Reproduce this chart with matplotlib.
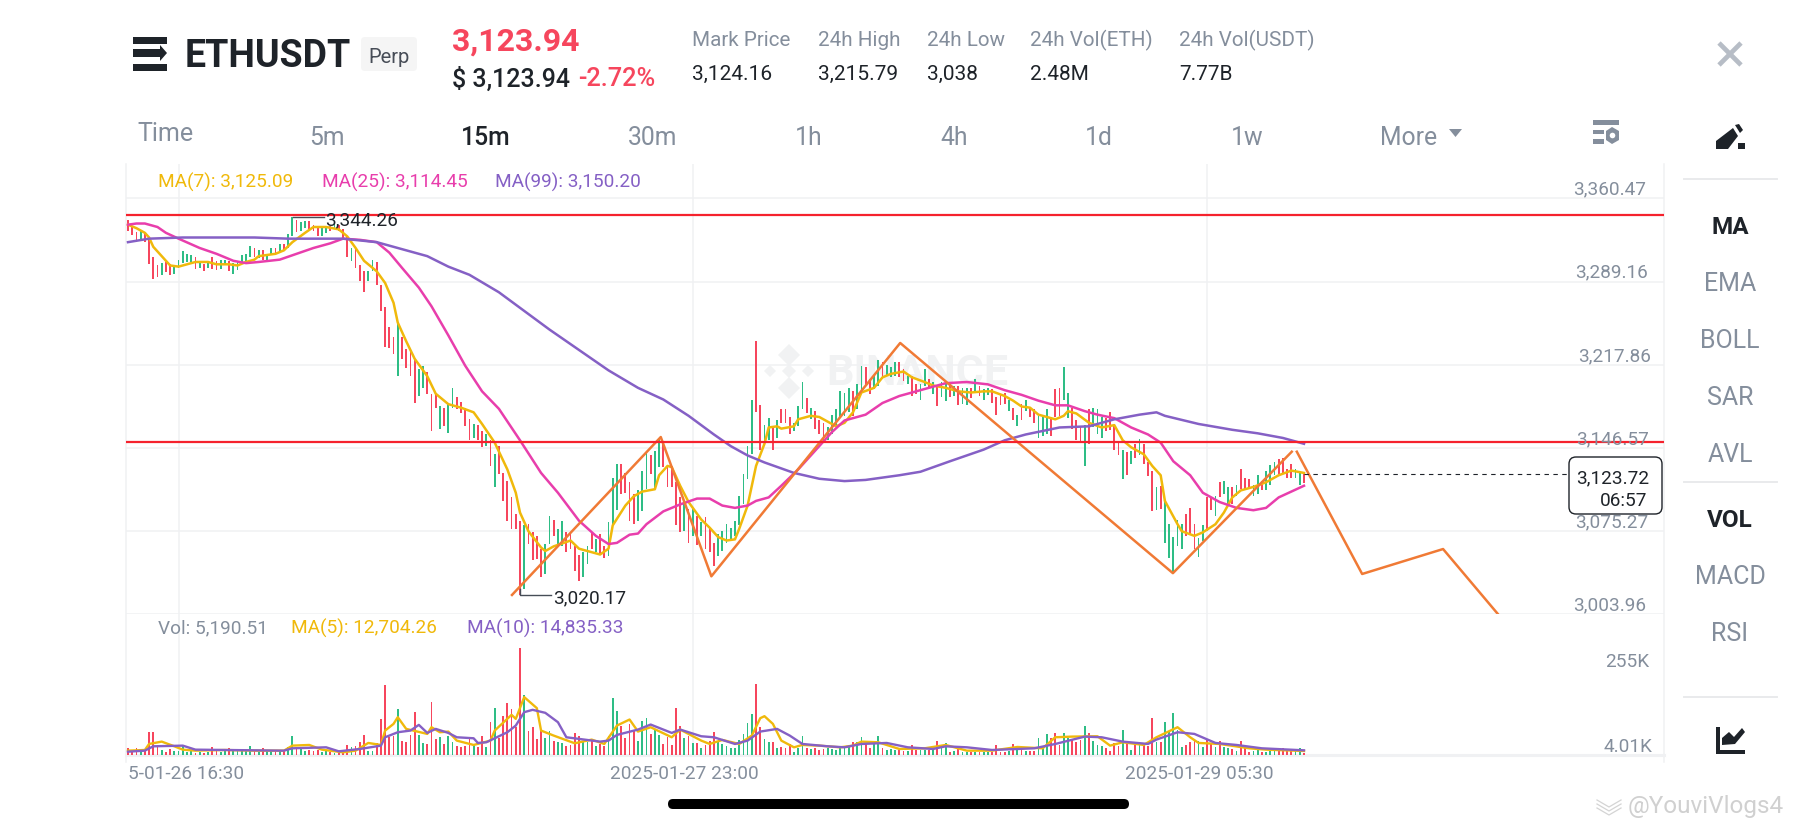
import matplotlib
matplotlib.use("Agg")
import matplotlib.pyplot as plt
from matplotlib.patches import Rectangle, FancyBboxPatch, Polygon

plt.rcParams['font.family'] = ['Roboto', 'DejaVu Sans']

# ---------- data ----------
sides = list("RRRGRRRRGR" "RGGGGGRGRG" "RRGGRGGGGG" "RGRGGRGRGG" "RGGRRRGGRG"
             "RRRGRRRGGR" "RRRRGRRRRG" "GRRRGRGGRR" "RRGRRGRGRR" "RRRRGRRRRG"
             "GRGGRRRRGG" "RGRRGGGRRR" "RGGGRGGRRR" "RRGRGRGRRR" "GGGGGGGGGR"
             "RGGRGRRRGG" "GRGRRRGGGG" "GGRGGRRGGR" "GGGRRGRRGG" "RGRGGRGRGG"
             "RGRGGRRRRG" "RGRGRRGGGR" "RRGGRRRGRG" "GGRRRRGRGR" "GRRRGRGGGG"
             "GRRRGGRRGR" "GGRGRRRGGR" "GGGRRRRGGR" "RGRGGRRRRG" "GGRGRGRRGG"
             "RGRGGRRGRR" "GGGGRRRRGR" "GRGGGRGGGG" "RGRRGGGRGG"
             "RRGRGRGRRG")[:280]

highs = [3342,3336,3332,3333,3331,3326,3310,3303,3305,3306,
         3304,3303,3308,3315,3313,3312,3310,3305,3304,3307,
         3310,3307,3308,3308,3307,3305,3307,3312,3313,3320,
         3318,3316,3316,3313,3318,3318,3321,3321,3330,3345,
         3342,3340,3341,3341,3338,3336,3336,3337,3337,3341,
         3338,3334,3328,3318,3318,3303,3298,3298,3308,3306,
         3286,3267,3250,3242,3253,3242,3231,3231,3223,3214,
         3217,3212,3193,3193,3182,3181,3184,3198,3190,3186,
         3181,3171,3167,3166,3161,3158,3153,3141,3148,3125,
         3118,3104,3090,3084,3080,3081,3074,3071,3060,3064,
         3088,3085,3077,3084,3074,3073,3062,3055,3057,3062,
         3074,3068,3073,3062,3083,3121,3133,3133,3125,3117,
         3107,3110,3127,3143,3140,3144,3154,3150,3131,3131,
         3117,3104,3100,3094,3094,3088,3083,3087,3077,3065,
         3073,3075,3081,3078,3084,3105,3124,3148,3188,3238,
         3183,3166,3172,3165,3170,3180,3180,3173,3168,3182,
         3203,3189,3181,3178,3170,3168,3164,3175,3180,3195,
         3194,3198,3195,3201,3217,3216,3206,3208,3222,3220,
         3218,3216,3220,3220,3214,3208,3208,3201,3201,3214,
         3206,3203,3200,3203,3201,3201,3200,3200,3198,3198,
         3198,3206,3200,3197,3198,3197,3190,3193,3194,3188,
         3181,3175,3184,3188,3181,3180,3174,3175,3180,3173,
         3197,3198,3216,3194,3181,3170,3164,3166,3180,3181,
         3180,3173,3172,3177,3165,3151,3145,3143,3144,3150,
         3154,3150,3134,3127,3113,3114,3100,3081,3070,3085,
         3081,3090,3095,3081,3069,3080,3104,3104,3105,3117,
         3118,3113,3113,3115,3128,3121,3120,3115,3123,3118,
         3127,3132,3134,3137,3138,3128,3133,3128,3126,3124]
lows = [3333,3329,3323,3325,3323,3304,3291,3293,3295,3297,
        3295,3296,3301,3305,3306,3306,3300,3301,3298,3301,
        3300,3299,3300,3303,3298,3296,3299,3305,3306,3310,
        3310,3309,3308,3307,3313,3313,3315,3316,3318,3328,
        3332,3333,3335,3334,3333,3328,3328,3331,3333,3334,
        3333,3326,3310,3307,3301,3290,3280,3290,3298,3286,
        3264,3233,3232,3227,3208,3223,3215,3208,3185,3191,
        3198,3193,3161,3181,3163,3165,3159,3181,3180,3176,
        3165,3153,3155,3153,3147,3148,3131,3113,3124,3101,
        3084,3077,3077,3020,3025,3064,3050,3051,3036,3038,
        3064,3071,3062,3062,3057,3060,3041,3032,3036,3047,
        3060,3057,3055,3052,3054,3080,3093,3107,3108,3084,
        3081,3084,3092,3111,3124,3111,3130,3130,3113,3113,
        3080,3074,3075,3065,3071,3063,3071,3060,3057,3045,
        3054,3058,3065,3068,3071,3080,3098,3120,3141,3177,
        3145,3149,3153,3145,3155,3168,3168,3158,3161,3165,
        3180,3176,3171,3163,3158,3153,3153,3158,3166,3173,
        3174,3177,3174,3180,3193,3200,3193,3197,3200,3206,
        3208,3207,3208,3207,3204,3201,3191,3193,3188,3200,
        3198,3193,3182,3190,3187,3190,3191,3183,3184,3183,
        3189,3194,3191,3188,3192,3185,3175,3183,3184,3178,
        3170,3165,3170,3178,3173,3168,3155,3157,3158,3157,
        3173,3174,3188,3172,3163,3153,3151,3131,3150,3164,
        3158,3155,3161,3162,3145,3140,3120,3123,3133,3138,
        3140,3133,3122,3092,3093,3094,3065,3052,3038,3062,
        3060,3071,3073,3060,3053,3067,3075,3093,3088,3104,
        3107,3097,3098,3105,3111,3110,3111,3105,3107,3110,
        3110,3115,3123,3124,3125,3121,3121,3121,3115,3116]

volumes_k = [24,14,25,12,15,74,74,34,20,14,
             21,17,17,30,14,17,10,14,11,14,
             28,17,14,17,25,17,15,16,17,32,
             16,12,24,17,16,17,16,17,27,62,
             24,22,17,19,17,19,14,16,12,10,
             9,12,35,28,30,44,65,17,16,40,
             113,212,57,62,140,47,44,64,132,64,
             39,37,162,52,57,37,60,42,32,27,
             32,52,37,29,60,28,102,144,54,122,
             160,142,87,324,184,77,87,52,79,54,
             75,47,42,39,32,34,70,60,44,44,
             52,32,37,32,60,174,135,90,54,97,
             77,47,105,114,67,82,64,37,57,34,
             144,90,54,60,39,39,24,34,46,72,
             42,38,30,26,26,48,67,99,126,216,
             87,52,42,44,26,28,24,36,14,24,
             62,24,22,26,19,22,24,22,19,26,
             24,34,42,42,59,39,24,44,62,24,
             19,22,19,19,16,17,34,18,19,19,
             19,19,47,34,41,14,16,22,14,12,
             12,12,14,12,12,12,34,12,14,16,
             36,30,24,16,16,16,56,29,66,54,
             69,34,70,54,49,44,49,90,69,46,
             34,32,26,16,40,30,79,39,18,34,
             34,34,32,116,44,44,104,74,129,79,
             29,34,44,46,46,29,48,36,29,46,
             29,24,22,16,46,24,14,16,22,14,
             14,16,19,16,26,19,16,16,26,9]

ma7_x = [0,2,4,5,6,8,10,12,14,16,19,21,24,26,28,30,31,35,37,39,42,44,47,50,52,54,56,59,61,63,64,66,68,71,73,76,79,82,84,87,90,92,93,95,98,99,101,105,107,109,112,114,115,118,120,122,125,126,128,129,131,133,136,138,140,142,144,145,147,149,151,152,154,155,158,159,162,164,168,170,172,174,177,179,181,184,186,189,191,194,197,200,203,205,208,210,212,214,216,220,222,223,225,228,231,234,236,238,241,243,245,246,249,250,253,255,258,260,262,264,267,270,273,276,279]
ma7_y = [3338,3335,3331,3327,3319,3311,3303,3302,3304,3306,3306,3304,3304,3303,3306,3308,3311,3313,3316,3323,3331,3336,3336,3334,3328,3318,3307,3298,3288,3271,3254,3238,3223,3208,3193,3184,3181,3177,3167,3151,3128,3108,3091,3075,3061,3058,3062,3067,3060,3058,3055,3060,3080,3097,3105,3109,3111,3123,3131,3130,3114,3100,3085,3078,3070,3067,3068,3077,3097,3131,3150,3164,3165,3163,3165,3171,3174,3173,3165,3168,3177,3194,3198,3207,3210,3212,3207,3203,3200,3198,3195,3194,3195,3195,3191,3187,3182,3181,3175,3171,3174,3178,3176,3168,3164,3166,3153,3147,3141,3131,3123,3101,3081,3075,3071,3074,3081,3091,3104,3110,3113,3117,3123,3127,3125]

ma25_x = [0,2,4,7,9,12,17,21,25,28,31,36,40,44,48,51,55,59,62,65,69,72,76,80,84,88,93,98,102,107,111,114,116,119,121,123,127,131,135,138,141,144,147,149,152,155,159,163,167,170,175,179,183,186,190,194,199,204,208,212,216,220,223,227,230,234,238,242,245,248,252,255,259,263,267,270,273,276,279]
ma25_y = [3338,3339,3339,3336,3331,3326,3318,3313,3307,3305,3306,3308,3313,3318,3322,3326,3325,3323,3314,3301,3284,3268,3243,3217,3195,3180,3153,3125,3108,3084,3071,3064,3065,3072,3073,3081,3092,3098,3103,3103,3097,3095,3097,3101,3104,3114,3128,3144,3160,3170,3175,3185,3191,3194,3198,3202,3203,3201,3196,3192,3187,3183,3183,3178,3175,3172,3164,3158,3151,3135,3123,3108,3100,3095,3093,3095,3104,3109,3114]

ma99_x = [0,5,13,21,30,38,51,59,64,71,76,81,88,94,100,104,114,121,127,133,139,143,147,151,158,164,170,175,183,188,195,203,208,213,221,228,234,240,244,246,254,262,268,274,279]
ma99_y = [3323,3326,3327,3327,3327,3326,3326,3323,3318,3311,3302,3295,3280,3264,3248,3238,3213,3198,3188,3174,3158,3148,3140,3134,3125,3120,3118,3119,3123,3126,3135,3145,3153,3158,3164,3165,3171,3175,3177,3174,3167,3162,3159,3155,3150]

vol_ma5_x = [0,4,5,8,11,13,16,23,30,37,39,43,46,51,54,57,60,61,63,64,66,71,72,74,76,78,82,86,87,91,92,94,97,98,101,106,110,113,116,119,121,124,129,131,136,138,141,145,148,150,151,153,155,158,160,164,169,172,174,178,183,189,194,199,205,211,217,220,224,230,233,236,241,244,249,252,254,259,266,270,279]
vol_ma5_y = [17,19,37,44,30,20,17,19,17,17,32,34,20,12,17,40,34,77,97,117,82,67,87,72,74,47,34,47,77,124,112,177,144,77,62,39,50,37,92,110,74,87,57,80,47,37,49,37,62,114,120,97,47,27,34,32,27,32,44,42,22,24,34,17,17,28,24,57,59,60,32,42,34,57,87,57,40,37,24,20,16]

vol_ma10_x = [0,4,6,13,16,23,30,37,39,47,50,55,60,61,64,67,69,71,73,76,78,82,83,85,90,92,94,96,99,102,104,112,114,116,121,124,129,131,136,139,144,147,150,154,157,160,166,170,174,180,185,191,194,199,205,215,220,227,231,236,242,244,249,253,258,263,269,279]
vol_ma10_y = [14,17,30,32,20,19,18,17,24,27,15,22,32,57,72,77,94,70,82,70,57,54,40,42,72,92,132,139,130,102,57,44,47,64,80,95,70,80,60,57,37,47,74,82,62,37,30,27,37,40,27,22,30,27,19,24,37,59,57,44,37,50,72,67,40,34,24,18]

level_prices = [3345.9, 3151.7]
zigzag_a_x = [91.1, 126.4, 138.4, 183.2, 247.9, 276.1]
zigzag_a_y = [3020.3, 3155.8, 3036.3, 3236.5, 3039.0, 3143.2]
zigzag_b_x = [277.3, 292.8, 312.0, 325.0]
zigzag_b_y = [3143.2, 3038.3, 3059.7, 3003.96]
last_price = 3123.72
price_ticks = ["3,360.47", "3,289.16", "3,217.86", "3,146.57", "3,075.27", "3,003.96"]
price_tick_values = [3360.47, 3289.16, 3217.86, 3146.57, 3075.27, 3003.96]
time_tick_idx = [12, 134, 256]

# ---------- styles ----------
W, H = 1796, 828
GREEN, RED = '#2ebd85', '#f6465d'
GOLD, PINK, PURPLE = '#f0b90b', '#e83eac', '#8560c5'
ORANGE, LEVEL = '#f07a35', '#f5222d'
GREY, DARK, GRID = '#848e9c', '#1e2329', '#f0f1f3'
X0, X1 = 126, 1664
STEP, FIRST = 4.215, 128
SMALL = 13.7

fig = plt.figure(figsize=(W / 100, H / 100), dpi=100, facecolor='white')

def axes_px(y_top, y_bot, z):
    a = fig.add_axes([X0 / W, 1 - y_bot / H, (X1 - X0) / W, (y_bot - y_top) / H], zorder=z)
    a.patch.set_alpha(0)
    a.set_xlim((X0 - FIRST) / STEP, (X1 - FIRST) / STEP)
    a.set_xticks([]); a.set_yticks([])
    for s in a.spines.values():
        s.set_visible(False)
    return a

bg = fig.add_axes([0, 0, 1, 1], zorder=0); bg.set_xlim(0, W); bg.set_ylim(H, 0); bg.axis('off')
ax = axes_px(165, 615, 1)
ax.set_ylim(3003.96, 3003.96 + 450 / 1.1655)
vx = axes_px(615, 756, 1)
vx.set_ylim(4.01, 4.01 + 141 * 2.988)
fg = fig.add_axes([0, 0, 1, 1], zorder=3); fg.set_xlim(0, W); fg.set_ylim(H, 0); fg.axis('off'); fg.patch.set_alpha(0)

# ---------- chart ----------
xs = list(range(len(highs)))
cols = [GREEN if s == 'G' else RED for s in sides]
ax.bar(xs, [h - l for h, l in zip(highs, lows)], bottom=lows, width=0.42, color=cols, linewidth=0, zorder=3)
vx.bar(xs, volumes_k, width=0.42, color=cols, linewidth=0, zorder=3)

for v in price_tick_values:
    ax.axhline(v, color=GRID, lw=1.1, zorder=1)
vx.axhline(4.01, color=GRID, lw=2.2, zorder=1, clip_on=False)
for t in time_tick_idx:
    ax.axvline(t, color=GRID, lw=1.1, zorder=1)
    vx.axvline(t, color=GRID, lw=1.1, zorder=1)
bg.plot([X0, X0], [165, 763], color=GRID, lw=1.1)
bg.plot([X1, X1], [165, 763], color=GRID, lw=1.1)

for px, py, c in [(ma7_x, ma7_y, GOLD), (ma25_x, ma25_y, PINK), (ma99_x, ma99_y, PURPLE)]:
    ax.plot(px, py, color=c, lw=1.8, zorder=4, solid_joinstyle='round')
for px, py, c in [(vol_ma5_x, vol_ma5_y, GOLD), (vol_ma10_x, vol_ma10_y, PURPLE)]:
    vx.plot(px, py, color=c, lw=1.7, zorder=4, solid_joinstyle='round')

for lv in level_prices:
    ax.axhline(lv, color=LEVEL, lw=1.6, zorder=6)
ax.plot(zigzag_a_x, zigzag_a_y, color=ORANGE, lw=1.8, zorder=5)
ax.plot(zigzag_b_x, zigzag_b_y, color=ORANGE, lw=1.8, zorder=5)
ax.plot([xs[-1], (1568 - FIRST) / STEP], [last_price, last_price], color=DARK, lw=0.8,
        dashes=(4, 4), zorder=5)

# ---------- helpers ----------
def T(x, y, s, size=13, color=GREY, ha='left', weight='normal', a=fg, z=10):
    a.text(x, y + 1.2, s, fontsize=size, color=color, ha=ha, va='center', fontweight=weight, zorder=z)

def R(x0, y0, x1, y1, color, a=fg):
    a.add_patch(Rectangle((x0, y0), x1 - x0, y1 - y0, facecolor=color, edgecolor='none'))

def PG(pts, color, a=fg):
    a.add_patch(Polygon(pts, closed=True, facecolor=color, edgecolor='none'))

# watermark
WM = '#f1f2f3'
cx, cy = 789, 372
for dx, dy, r in [(0, -16, 11), (-19, 0, 6), (19, 0, 6), (0, 0, 7), (0, 17, 11)]:
    PG([(cx + dx, cy + dy - r), (cx + dx + r, cy + dy), (cx + dx, cy + dy + r), (cx + dx - r, cy + dy)], WM, bg)
T(826, 372, "BINANCE", 31, WM, weight='bold', a=bg)

# legends
T(158, 181, "MA(7): 3,125.09", SMALL, GOLD)
T(322, 181, "MA(25): 3,114.45", SMALL, PINK)
T(495, 181, "MA(99): 3,150.20", SMALL, PURPLE)
T(158, 627, "Vol: 5,190.51", SMALL, GREY)
T(291, 627, "MA(5): 12,704.26", SMALL, GOLD)
T(467, 627, "MA(10): 14,835.33", SMALL, PURPLE)

# price extremes
fg.plot([293, 324], [217.5, 217.5], color='#474d57', lw=1)
T(325, 219, "3,344.26", SMALL, DARK)
fg.plot([520, 520, 551], [590, 596, 596], color='#474d57', lw=1)
T(553, 597, "3,020.17", SMALL, DARK)

# right labels
for s, x, y in zip(price_ticks, [1646, 1648, 1651, 1649, 1648, 1646],
                   [188.5, 271.4, 354.8, 437.7, 521.6, 604]):
    T(x, y, s, SMALL, GREY, ha='right')
T(1649, 661, "255K", SMALL, GREY, ha='right')
T(1652, 745.5, "4.01K", SMALL, GREY, ha='right')

# x labels
T(128, 773, "5-01-26 16:30", SMALL, GREY)
T(610, 773, "2025-01-27 23:00", SMALL, GREY)
T(1125, 773, "2025-01-29 05:30", SMALL, GREY)

# last price tag
tag = FancyBboxPatch((1569, 458), 93, 57, boxstyle="round,pad=0,rounding_size=7",
                     fc='white', ec=DARK, lw=1, zorder=8)
fg.add_patch(tag)
T(1649, 477, "3,123.72", SMALL, DARK, ha='right', z=11)
T(1647, 500, "06:57", SMALL, DARK, ha='right', z=11)

# header
R(133, 38, 167, 45, DARK); R(133, 65, 167, 72, DARK); R(133, 50, 160, 58, DARK)
PG([(160, 46), (167, 54), (160, 62)], DARK)
T(185, 55.5, "ETHUSDT", 27, DARK, weight='bold')
fg.add_patch(FancyBboxPatch((361, 38), 56, 34, boxstyle="round,pad=0,rounding_size=4", fc='#f5f5f5', ec='none'))
T(389, 56, "Perp", 14.5, '#474d57', ha='center')
T(452, 40, "3,123.94", 23, RED, weight='bold')
T(452, 78, "$ 3,123.94", 18, DARK, weight='medium')
T(578, 78, "-2.72%", 18.3, RED, weight='medium')
for lab, val, x in [("Mark Price", "3,124.16", 692), ("24h High", "3,215.79", 818), ("24h Low", "3,038", 927),
                    ("24h Vol(ETH)", "2.48M", 1030), ("24h Vol(USDT)", "7.77B", 1179)]:
    T(x, 39, lab, 14.9, GREY)
    T(x, 73, val, 15, DARK)

# interval row
INT = 17.8
T(137, 133, "Time", 18, GREY)
T(309, 137, "5m", INT, GREY)
T(461, 137, "15m", INT, DARK, weight='medium')
T(628, 137, "30m", INT, GREY)
T(809, 137, "1h", INT, GREY, ha='center')
T(954, 137, "4h", INT, GREY, ha='center')
T(1099, 137, "1d", INT, GREY, ha='center')
T(1247, 137, "1w", INT, GREY, ha='center')
T(1380, 137, "More", INT, GREY)
PG([(1449, 130), (1462, 130), (1455.5, 138)], GREY)
# layout icon
R(1593, 121, 1619, 126, GREY); R(1593, 131, 1604, 135, GREY); R(1593, 140, 1604, 145, GREY)
PG([(1606, 132), (1612, 128), (1619, 132), (1619, 141), (1612, 145), (1606, 141)], GREY)
fg.add_patch(plt.Circle((1612.5, 136.5), 2.8, fc='white', ec='none'))

# side panel
fg.plot([1719, 1741], [44, 66], color='#b7bdc6', lw=3.4, solid_capstyle='butt')
fg.plot([1719, 1741], [66, 44], color='#b7bdc6', lw=3.4, solid_capstyle='butt')
PG([(1716, 150), (1716, 142), (1733, 129), (1738, 137), (1728, 150)], DARK)
R(1738, 144, 1745, 150, DARK)
PG([(1735, 126), (1739, 125), (1743, 131), (1740, 134)], DARK)
for y in [180, 483, 698]:
    fg.plot([1684, 1777], [y, y], color='#e9eaec', lw=1.4)
for s, y, c, w, fs in [("MA", 226, DARK, 'bold', 17.5), ("EMA", 283, GREY, 'normal', 18), ("BOLL", 339.5, GREY, 'normal', 18),
                       ("SAR", 396.5, GREY, 'normal', 18), ("AVL", 453.5, GREY, 'normal', 18), ("VOL", 519, DARK, 'bold', 17.5),
                       ("MACD", 575.5, GREY, 'normal', 18), ("RSI", 632.5, GREY, 'normal', 18)]:
    T(1730, y, s, fs, c, ha='center', weight=w)
# indicator icon
R(1716, 728, 1720, 755, DARK); R(1716, 751, 1745, 755, DARK)
PG([(1722, 746), (1722, 739), (1729, 733), (1734, 738), (1742, 729), (1745, 733), (1735, 745)], DARK)

# home bar and watermark
fg.add_patch(FancyBboxPatch((668, 800), 461, 10, boxstyle="round,pad=0,rounding_size=5", fc='#000000', ec='none'))
cx, cy = 1609, 805
for dy in (-4, 0, 4):
    fg.plot([cx - 12, cx, cx + 12], [cy + dy, cy + dy + 7, cy + dy], color='#d4d4d4', lw=0.9)
T(1628, 805, "@YouviVlogs4", 17.5, '#d0d0d0')

fig.savefig("out.png", dpi=100, facecolor='white')
